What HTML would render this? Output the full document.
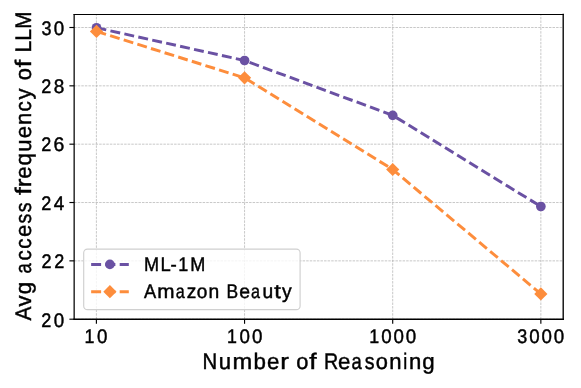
<!DOCTYPE html>
<html><head><meta charset="utf-8">
<style>
html,body{margin:0;padding:0;background:#fff;}
body{width:581px;height:388px;overflow:hidden;}
svg{display:block;}
text{font-family:"Liberation Sans",sans-serif;fill:#000;stroke:#000;stroke-width:0.45;text-rendering:geometricPrecision;}
svg{will-change:transform;}
</style></head>
<body>
<svg width="581" height="388" viewBox="0 0 581 388">
<rect x="0" y="0" width="581" height="388" fill="#fff"/>
<g stroke="#b0b0b0" stroke-width="0.7" stroke-dasharray="2.49 1.08" fill="none">
<line x1="96.40" y1="319.25" x2="96.40" y2="14.5"/>
<line x1="244.55" y1="319.25" x2="244.55" y2="14.5"/>
<line x1="392.70" y1="319.25" x2="392.70" y2="14.5"/>
<line x1="540.85" y1="319.25" x2="540.85" y2="14.5"/>
<line x1="74.15" y1="319.20" x2="563.2" y2="319.20"/>
<line x1="74.15" y1="260.86" x2="563.2" y2="260.86"/>
<line x1="74.15" y1="202.52" x2="563.2" y2="202.52"/>
<line x1="74.15" y1="144.18" x2="563.2" y2="144.18"/>
<line x1="74.15" y1="85.84" x2="563.2" y2="85.84"/>
<line x1="74.15" y1="27.50" x2="563.2" y2="27.50"/>
</g>
<polyline points="96.50,27.75 244.55,60.50 392.70,115.35 540.85,206.50" fill="none" stroke="#6a51a3" stroke-width="2.95" stroke-dasharray="9.96 4.31"/>
<g fill="#6a51a3">
<circle cx="96.50" cy="27.75" r="4.85"/>
<circle cx="244.55" cy="60.50" r="4.85"/>
<circle cx="392.70" cy="115.35" r="4.85"/>
<circle cx="540.85" cy="206.50" r="4.85"/>
</g>
<polyline points="96.50,31.40 244.55,77.80 392.70,169.50 540.85,293.90" fill="none" stroke="#fd8d3c" stroke-width="2.95" stroke-dasharray="9.96 4.31"/>
<g fill="#fd8d3c">
<path d="M96.50 24.80 L103.10 31.40 L96.50 38.00 L89.90 31.40Z"/>
<path d="M244.55 71.20 L251.15 77.80 L244.55 84.40 L237.95 77.80Z"/>
<path d="M392.70 162.90 L399.30 169.50 L392.70 176.10 L386.10 169.50Z"/>
<path d="M540.85 287.30 L547.45 293.90 L540.85 300.50 L534.25 293.90Z"/>
</g>
<rect x="83.7" y="249.1" width="216.4" height="60.5" rx="3.7" fill="#fff" fill-opacity="0.8" stroke="#d0d0d0" stroke-width="1.15"/>
<line x1="91.15" y1="264.4" x2="128.8" y2="264.4" stroke="#6a51a3" stroke-width="2.95" stroke-dasharray="9.96 4.31"/>
<circle cx="109.9" cy="264.4" r="4.85" fill="#6a51a3"/>
<line x1="91.15" y1="291.7" x2="128.8" y2="291.7" stroke="#fd8d3c" stroke-width="2.95" stroke-dasharray="9.96 4.31"/>
<path d="M109.90 285.10 L116.50 291.70 L109.90 298.30 L103.30 291.70Z" fill="#fd8d3c"/>
<g font-size="19.76"><text transform="translate(144.08,270.80) scale(0.915,1)">M</text><text transform="translate(160.57,270.80) scale(0.931,1)">L</text><text transform="translate(170.61,270.80) scale(0.945,1)">-</text><text transform="translate(178.22,270.80) scale(0.909,1)">1</text><text transform="translate(190.17,270.80) scale(0.915,1)">M</text></g>
<g font-size="19.76"><text transform="translate(144.10,298.00) scale(0.924,1)">A</text><text transform="translate(157.22,298.00) scale(1.050,1)">m</text><text transform="translate(175.65,298.00) scale(0.814,1)">a</text><text transform="translate(186.77,298.00) scale(0.968,1)">z</text><text transform="translate(196.86,298.00) scale(0.966,1)">o</text><text transform="translate(208.57,298.00) scale(0.976,1)">n</text><text transform="translate(226.49,298.00) scale(0.884,1)">B</text><text transform="translate(239.21,298.00) scale(0.982,1)">e</text><text transform="translate(251.02,298.00) scale(0.814,1)">a</text><text transform="translate(262.46,298.00) scale(0.976,1)">u</text><text transform="translate(274.19,298.00) scale(1.192,1)">t</text><text transform="translate(281.95,298.00) scale(0.978,1)">y</text></g>
<g stroke="#000" fill="none" stroke-linecap="square">
<line x1="74.15" y1="14.5" x2="563.2" y2="14.5" stroke-width="1.15"/>
<line x1="74.15" y1="319.25" x2="563.2" y2="319.25" stroke-width="1.4"/>
<line x1="74.15" y1="14.5" x2="74.15" y2="319.25" stroke-width="1.25"/>
<line x1="563.2" y1="14.5" x2="563.2" y2="319.25" stroke-width="1.35"/>
</g>
<g stroke="#000" stroke-width="1.15">
<line x1="69.4" y1="319.20" x2="74.15" y2="319.20"/>
<line x1="69.4" y1="260.86" x2="74.15" y2="260.86"/>
<line x1="69.4" y1="202.52" x2="74.15" y2="202.52"/>
<line x1="69.4" y1="144.18" x2="74.15" y2="144.18"/>
<line x1="69.4" y1="85.84" x2="74.15" y2="85.84"/>
<line x1="69.4" y1="27.50" x2="74.15" y2="27.50"/>
<line x1="96.40" y1="319.25" x2="96.40" y2="323.8"/>
<line x1="244.55" y1="319.25" x2="244.55" y2="323.8"/>
<line x1="392.70" y1="319.25" x2="392.70" y2="323.8"/>
<line x1="540.85" y1="319.25" x2="540.85" y2="323.8"/>
</g>
<g font-size="19.60"><text transform="translate(41.24,326.50) scale(0.920,1)">2</text><text transform="translate(53.82,326.50) scale(0.957,1)">0</text></g>
<g font-size="19.60"><text transform="translate(41.38,268.16) scale(0.920,1)">2</text><text transform="translate(54.29,268.16) scale(0.920,1)">2</text></g>
<g font-size="19.60"><text transform="translate(41.20,209.82) scale(0.920,1)">2</text><text transform="translate(53.65,209.82) scale(0.960,1)">4</text></g>
<g font-size="19.60"><text transform="translate(41.23,151.48) scale(0.920,1)">2</text><text transform="translate(53.59,151.48) scale(0.991,1)">6</text></g>
<g font-size="19.60"><text transform="translate(41.25,93.14) scale(0.920,1)">2</text><text transform="translate(53.80,93.14) scale(0.968,1)">8</text></g>
<g font-size="19.60"><text transform="translate(41.49,34.80) scale(0.918,1)">3</text><text transform="translate(53.81,34.80) scale(0.957,1)">0</text></g>
<g font-size="19.60"><text transform="translate(84.60,342.80) scale(0.909,1)">1</text><text transform="translate(96.99,342.80) scale(0.957,1)">0</text></g>
<g font-size="19.60"><text transform="translate(227.00,342.80) scale(0.909,1)">1</text><text transform="translate(239.40,342.80) scale(0.957,1)">0</text><text transform="translate(251.99,342.80) scale(0.957,1)">0</text></g>
<g font-size="19.60"><text transform="translate(369.26,342.80) scale(0.909,1)">1</text><text transform="translate(381.26,342.80) scale(0.957,1)">0</text><text transform="translate(393.46,342.80) scale(0.957,1)">0</text><text transform="translate(405.65,342.80) scale(0.957,1)">0</text></g>
<g font-size="19.60"><text transform="translate(517.36,342.80) scale(0.918,1)">3</text><text transform="translate(529.33,342.80) scale(0.957,1)">0</text><text transform="translate(541.54,342.80) scale(0.957,1)">0</text><text transform="translate(553.75,342.80) scale(0.957,1)">0</text></g>
<g font-size="22.52"><text transform="translate(202.61,369.00) scale(0.904,1)">N</text><text transform="translate(218.72,369.00) scale(0.981,1)">u</text><text transform="translate(232.47,369.00) scale(1.053,1)">m</text><text transform="translate(253.61,369.00) scale(0.992,1)">b</text><text transform="translate(267.06,369.00) scale(0.986,1)">e</text><text transform="translate(280.33,369.00) scale(1.147,1)">r</text><text transform="translate(296.15,369.00) scale(0.970,1)">o</text><text transform="translate(309.20,369.00) scale(1.181,1)">f</text><text transform="translate(324.11,369.00) scale(0.876,1)">R</text><text transform="translate(337.90,369.00) scale(0.986,1)">e</text><text transform="translate(351.46,369.00) scale(0.818,1)">a</text><text transform="translate(364.81,369.00) scale(0.869,1)">s</text><text transform="translate(375.74,369.00) scale(0.970,1)">o</text><text transform="translate(389.18,369.00) scale(0.981,1)">n</text><text transform="translate(403.14,369.00) scale(0.800,1)">i</text><text transform="translate(408.89,369.00) scale(0.981,1)">n</text><text transform="translate(422.36,369.00) scale(0.991,1)">g</text></g>
<g transform="translate(30.6,320.65) rotate(-90)" font-size="22.52"><text transform="translate(0.20,0.00) scale(0.927,1)">A</text><text transform="translate(14.04,0.00) scale(0.987,1)">v</text><text transform="translate(26.42,0.00) scale(0.991,1)">g</text><text transform="translate(47.12,0.00) scale(0.818,1)">a</text><text transform="translate(60.07,0.00) scale(0.911,1)">c</text><text transform="translate(71.86,0.00) scale(0.911,1)">c</text><text transform="translate(83.59,0.00) scale(0.986,1)">e</text><text transform="translate(97.16,0.00) scale(0.869,1)">s</text><text transform="translate(108.34,0.00) scale(0.869,1)">s</text><text transform="translate(125.83,0.00) scale(1.181,1)">f</text><text transform="translate(133.50,0.00) scale(1.147,1)">r</text><text transform="translate(141.87,0.00) scale(0.986,1)">e</text><text transform="translate(155.08,0.00) scale(0.990,1)">q</text><text transform="translate(168.83,0.00) scale(0.981,1)">u</text><text transform="translate(182.29,0.00) scale(0.986,1)">e</text><text transform="translate(195.72,0.00) scale(0.981,1)">n</text><text transform="translate(209.15,0.00) scale(0.911,1)">c</text><text transform="translate(221.23,0.00) scale(0.982,1)">y</text><text transform="translate(240.42,0.00) scale(0.970,1)">o</text><text transform="translate(253.38,0.00) scale(1.181,1)">f</text><text transform="translate(268.03,0.00) scale(0.936,1)">L</text><text transform="translate(279.98,0.00) scale(0.936,1)">L</text><text transform="translate(291.99,0.00) scale(0.918,1)">M</text></g>
</svg>
</body></html>
